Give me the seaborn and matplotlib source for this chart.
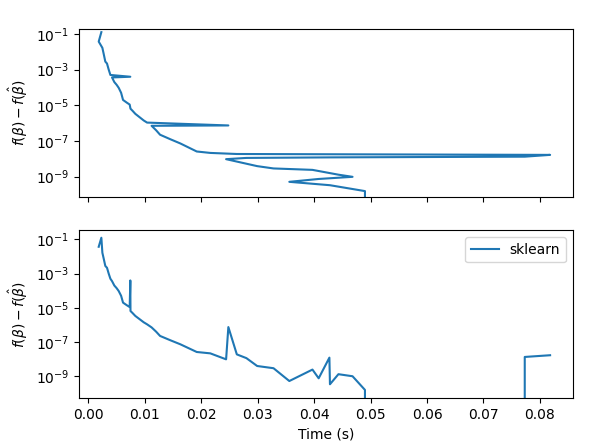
import numpy as np
import pandas as pd
import matplotlib
matplotlib.use("Agg")
import matplotlib.pyplot as plt
import seaborn as sns

# time (s) and log10 of suboptimality f(beta) - f(beta_hat), in time order
times = [0.00183, 0.0023, 0.00248, 0.0027, 0.0030, 0.0033, 0.0036, 0.0039, 0.00419, 0.0046,
         0.0050, 0.00537, 0.0058, 0.00614, 0.0068, 0.00732, 0.00743, 0.00746, 0.0078,
         0.00832, 0.0090, 0.0098, 0.0104, 0.0112, 0.0120, 0.0127, 0.0145, 0.0163, 0.0192,
         0.0216, 0.0244, 0.0248, 0.0263, 0.0280, 0.0299, 0.0328, 0.0356, 0.0397, 0.0408,
         0.0427, 0.0428, 0.0443, 0.0468, 0.0490, 0.0491, 0.0773, 0.07731, 0.0818]
log_subopt = [-1.43, -0.90, -1.78, -2.10, -2.55, -2.66, -3.00, -3.30, -3.44, -3.70,
              -3.85, -4.02, -4.30, -4.70, -4.85, -4.96, -3.40, -5.19, -5.30,
              -5.48, -5.65, -5.85, -5.97, -6.15, -6.40, -6.65, -6.90, -7.14, -7.59,
              -7.67, -8.02, -6.13, -7.73, -7.95, -8.41, -8.54, -9.29, -8.62, -9.13,
              -7.92, -9.48, -8.89, -9.01, -9.81, None, None, -7.88, -7.78]

subopt = [10 ** v if v is not None else 0.0 for v in log_subopt]
df = pd.DataFrame({"time": times, "subopt": subopt})
df_sorted = df.sort_values("subopt", ascending=False, kind="stable")

fig, (ax1, ax2) = plt.subplots(2, 1, figsize=(6.06, 4.45), dpi=100, sharex=True)

sns.lineplot(data=df_sorted, x="time", y="subopt", sort=False, ax=ax1, color="#1f77b4")
sns.lineplot(data=df, x="time", y="subopt", sort=False, ax=ax2, color="#1f77b4", label="sklearn")

for ax in (ax1, ax2):
    ax.set_yscale("log")
    ax.set_ylabel(r"$f(\beta) - f(\hat{\beta})$")
    ax.set_yticks([1e-1, 1e-3, 1e-5, 1e-7, 1e-9])
    ax.minorticks_off()
ax1.set_ylim(10 ** -10.13, 10 ** -0.72)
ax2.set_ylim(10 ** -10.3, 10 ** -0.47)
ax1.set_xlabel("")
ax2.set_xlabel("Time (s)")
ax2.set_xlim(-0.0017, 0.0858)
ax2.set_xticks(np.arange(0, 0.081, 0.01))
ax2.legend(loc="upper right")

fig.subplots_adjust(left=0.13, right=0.945, top=0.935, bottom=0.105, hspace=0.2)
fig.savefig("out.png", dpi=100)
